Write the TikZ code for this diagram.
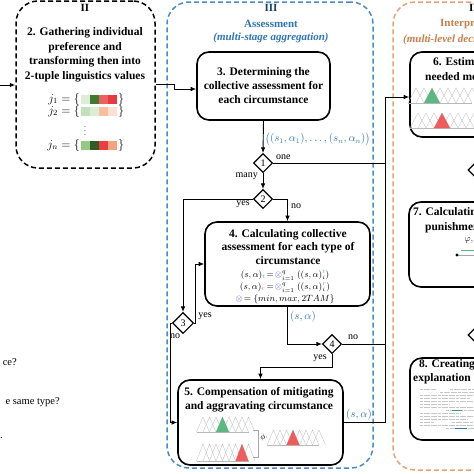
\documentclass[tikz,border=0pt]{standalone}
\usepackage{amsmath,amssymb}
\usepackage{fontspec}
\setmainfont{Liberation Serif}
\usepackage{tikz}
\usetikzlibrary{shapes.geometric,arrows.meta,positioning,calc}
\definecolor{assessBlue}{RGB}{46,117,182}
\definecolor{interpOrange}{RGB}{222,140,84}
\definecolor{tfnGreen}{RGB}{92,184,128}
\definecolor{tfnRed}{RGB}{238,92,92}
\definecolor{opBlue}{RGB}{86,86,226}
% preference cells
\definecolor{jAa}{RGB}{222,236,218}\definecolor{jAb}{RGB}{64,122,48}
\definecolor{jAc}{RGB}{236,96,96}\definecolor{jAd}{RGB}{232,56,64}
\definecolor{jBa}{RGB}{196,224,186}\definecolor{jBb}{RGB}{220,236,214}
\definecolor{jBc}{RGB}{246,192,160}\definecolor{jBd}{RGB}{250,224,212}
\definecolor{jNa}{RGB}{150,200,130}\definecolor{jNb}{RGB}{48,92,40}
\definecolor{jNc}{RGB}{236,62,62}\definecolor{jNd}{RGB}{242,164,128}

% row of triangular fuzzy numbers: x0, base y, step, height, count, filled index, colour
\newcommand{\tfnplot}[7]{%
  \draw[gray!55, line width=0.3pt] ({#1-#3},#2) -- ({#1+#5*#3},#2);
  \foreach \k in {0,...,#5} {
    \draw[gray!55, line width=0.3pt] ({#1+(\k-1)*#3},#2) -- ({#1+\k*#3},{#2-#4}) -- ({#1+(\k+1)*#3},#2);
  }
  \fill[#7] ({#1+(#6-1)*#3},#2) -- ({#1+#6*#3},{#2-#4}) -- ({#1+(#6+1)*#3},#2) -- cycle;
}

\begin{document}
\begin{tikzpicture}[x=1pt, y=-1pt,
    box/.style={draw, line width=1.6pt, rounded corners=12pt, align=center,
      font=\bfseries\fontsize{11.5}{14}\selectfont},
    grp/.style={draw, line width=1.5pt, dash pattern=on 5pt off 3pt, rounded corners=22pt},
    grpttl/.style={font=\bfseries\fontsize{11}{13}\selectfont, inner sep=0pt},
    dec/.style={draw, diamond, line width=1.1pt, inner sep=0pt, minimum size=19pt,
      fill=white, font=\fontsize{10}{10}\selectfont},
    arr/.style={-{Latex[length=5.5pt,width=4.5pt]}, line width=0.9pt},
    ln/.style={line width=0.9pt},
    lbl/.style={font=\fontsize{10}{12}\selectfont, inner sep=0pt},
    val/.style={text=assessBlue, font=\fontsize{11}{13}\selectfont, inner sep=0pt},
    frm/.style={font=\fontsize{9}{11}\selectfont, inner sep=0pt, text height=5pt, text depth=1.5pt},
    btxt/.style={font=\bfseries\fontsize{11.5}{14}\selectfont, inner sep=0pt, anchor=west}]
  \useasboundingbox (0,0) rectangle (474,474);
  \clip (0,0) rectangle (474,474);

  % stage frames
  \node[grp, minimum width=139pt, minimum height=167pt] (gII) at (85.5,84.5) {};
  \node[grp, draw=assessBlue!85, minimum width=206pt, minimum height=466pt] (gIII) at (270,235) {};
  \node[grp, draw=interpOrange!80, minimum width=220pt, minimum height=468pt] (gIV) at (503,236) {};

  \node[grpttl] (tII) at (85,8) {II};
  \node[grpttl, text=assessBlue!55!black] (tIII) at (271,8) {III};
  \node[grpttl, text=assessBlue] (tAss) at (271,24) {Assessment};
  \node[grpttl, text=assessBlue, font=\bfseries\itshape\fontsize{11}{13}\selectfont] (tAssB) at (271,38) {(multi-stage aggregation)};
  \node[grpttl, anchor=west] (tIV) at (469,8) {IV};
  \node[grpttl, text=interpOrange!90!black, anchor=west] (tInt) at (440,24) {Interpretation};
  \node[grpttl, text=interpOrange!90!black, anchor=west, font=\bfseries\itshape\fontsize{11}{13}\selectfont] (tIntB) at (403,40) {(multi-level decision)};

  % stage II
  \node[align=center, inner sep=0pt, font=\bfseries\fontsize{11.5}{14.5}\selectfont] (t2) at (85,55)
    {2. Gathering individual\\preference and\\transforming then into\\2-tuple linguistics values};
  \foreach \yy/\nm/\lab/\ca/\cb/\cc/\cd in {99/j1/1/jAa/jAb/jAc/jAd, 111/j2/2/jBa/jBb/jBc/jBd, 145/jn/n/jNa/jNb/jNc/jNd} {
    \node[inner sep=0pt, anchor=east, font=\fontsize{11.5}{13}\selectfont] (\nm) at (80,\yy) {$j_{\lab}=\{$};
    \foreach \c [count=\k from 0] in {\ca,\cb,\cc,\cd}
      \fill[\c] ({81+\k*9},\yy-4.5) rectangle ++(9,9);
    \node[inner sep=0pt, anchor=west, font=\fontsize{11.5}{13}\selectfont] (\nm r) at (118,\yy) {$\}$};
  }
  \node[inner sep=0pt, font=\fontsize{7.5}{8}\selectfont] (jdots) at (85,128) {$\vdots$};

  % stage III
  \node[box, minimum width=133pt, minimum height=68pt] (b3) at (263.5,86)
    {3. Determining the\\collective assessment for\\each circumstance};
  \node[dec] (d1) at (263,163) {1};
  \node[dec] (d2) at (263,199) {2};
  \node[dec, minimum size=21pt] (d3) at (183,323) {3};
  \node[box, minimum width=165pt, minimum height=84pt] (b4) at (287.5,264) {};
  \node[align=center, inner sep=0pt, font=\bfseries\fontsize{11.5}{13.2}\selectfont] (b4t) at (288,247)
    {4. Calculating collective\\assessment for each type of\\circumstance};
  \node[frm] (f1) at (285,276) {$(s,\alpha)_{\textcolor{tfnGreen}{t}}\!=\!\textcolor{opBlue}{\otimes}_{i=1}^{q}\;((s,\alpha)_i^{\textcolor{tfnGreen}{t}})$};
  \node[frm] (f2) at (285,288) {$(s,\alpha)_{\textcolor{tfnRed}{r}}\!=\!\textcolor{opBlue}{\otimes}_{i=1}^{q}\;((s,\alpha)_i^{\textcolor{tfnRed}{r}})$};
  \node[frm] (f3) at (285,299.5) {$\textcolor{opBlue}{\otimes}\!=\{min,max,2TAM\}$};
  \node[dec] (d4) at (332,344) {4};
  \node[box, minimum width=165pt, minimum height=85pt] (b5) at (260.5,422.5) {};
  \node[align=center, inner sep=0pt, font=\bfseries\fontsize{11.5}{14}\selectfont] (b5t) at (259,400)
    {5. Compensation of mitigating\\and aggravating circumstance};
  \tfnplot{203}{432}{6.5}{15}{7}{3}{tfnGreen}
  \tfnplot{203}{461}{6.5}{17}{7}{6}{tfnRed}
  \tfnplot{273.5}{445}{6.5}{15}{7}{3}{tfnRed}
  \draw[gray!70, line width=0.4pt] (253,430) -- (258,430) -- (258,457) -- (253,457);
  \node[inner sep=0pt, font=\fontsize{8}{8}\selectfont] (phi5) at (264,437) {$\phi\cdot$};

  % stage IV (cut at the right border)
  \node[box, minimum width=130pt, minimum height=85pt] (b6) at (475,94.5) {};
  \node[box, minimum width=130pt, minimum height=85pt] (b7) at (474,244.5) {};
  \node[box, minimum width=130pt, minimum height=82pt] (b8) at (475,399) {};
  \node[dec, minimum size=20pt] (d5) at (478,170) {};
  \node[dec, minimum size=20pt] (d6) at (478,335) {};
  \node[btxt] (b6a) at (433,63) {6. Estimating the};
  \node[btxt] (b6b) at (425,77) {needed measure};
  \tfnplot{416}{103}{8}{15}{7}{2}{tfnGreen}
  \tfnplot{418}{128}{8}{15}{7}{3}{tfnRed}
  \node[btxt] (b7a) at (413,213) {7. Calculating the};
  \node[btxt] (b7b) at (425,228) {punishment};
  \node[inner sep=0pt, font=\fontsize{9}{9}\selectfont] (phi7) at (469,240) {$\varphi,$};
  \draw[gray!70, line width=0.6pt] (457,255) -- (480,255);
  \draw[tfnGreen, line width=0.6pt] (461,250) -- (474,250);
  \fill (457,255) circle (1.6pt);
  \node[btxt] (b8a) at (419,365) {8. Creating};
  \node[btxt] (b8b) at (413,379) {explanation};
  \foreach \yy/\xx/\len in {389/420/16, 389/450/24, 392/440/34, 395/420/54, 398/420/50, 401/420/54,
      404/420/30, 407/420/54, 410/446/28, 413/420/40, 416/420/54, 419/420/48, 422/420/14, 422/452/22, 425/420/54, 428/446/28}
    \draw[gray!45, line width=0.5pt, dash pattern=on 3pt off 0.6pt] (\xx,\yy) -- ++(\len,0);
  \draw[tfnGreen!80!black, line width=0.5pt] (452,410) -- ++(10,0);
  \draw[assessBlue, line width=0.5pt] (455,428) -- ++(12,0);

  % flow
  \coordinate (inL) at (0,85);
  \draw[arr] (inL) -- (inL -| gII.west);
  \draw[arr] (gII.east) -- ++(19,0) |- ([yshift=-3pt]b3.west);
  \draw[arr] (b3.south) -- (d1.north);
  \node[val, anchor=west, font=\fontsize{10.6}{13}\selectfont] (vec) at (265,139) {$\big((s_1,\alpha_1),\dots,(s_n,\alpha_n)\big)$};
  \draw[arr] (d1.south) -- (d2.north);
  \node[lbl, anchor=east] (many) at (258,176) {many};
  \node[lbl, anchor=south west] (one) at (276,160) {one};
  \coordinate (busTop) at (385,97);
  \draw[ln] (d1.east) -- (d1.east -| busTop);
  \draw[arr] (d2.west) -| (d3.north);
  \node[lbl] (yes2) at (243,204) {yes};
  \draw[arr] (d2.east) -| (b4.north);
  \node[lbl] (no2) at (296,206) {no};
  \draw[arr] (d3.east) -- (195,323) |- (b4.west);
  \node[lbl] (yes3) at (205,316) {yes};
  \draw[arr] (d3.west) -- (170,323) |- (b5.west);
  \node[lbl] (no3) at (175,336) {no};
  \node[val, anchor=west] (sa4) at (290,317) {$(s,\alpha)$};
  \draw[arr] (b4.south) |- (d4.west);
  \draw[ln] (d4.east) -- (d4.east -| busTop);
  \node[lbl] (no4) at (353,337) {no};
  \draw[arr] (d4.south) -- (332,367) -| (b5.north);
  \node[lbl] (yes4) at (320,358) {yes};
  \node[val] (sa5) at (359,415) {$(s,\alpha)$};
  \draw[arr] (b5.east) -- (b5.east -| busTop) -- (busTop) -- (busTop -| b6.west);

  % legend (cut at the left border)
  \node[lbl, anchor=east, font=\fontsize{10.5}{12}\selectfont] (lg1) at (17,362) {ce?};
  \node[lbl, anchor=east, font=\fontsize{10.5}{12}\selectfont] (lg2) at (60,402) {e same type?};
  \node[lbl, anchor=east, font=\fontsize{10.5}{12}\selectfont] (lg3) at (3,438) {.};
\end{tikzpicture}
\end{document}
